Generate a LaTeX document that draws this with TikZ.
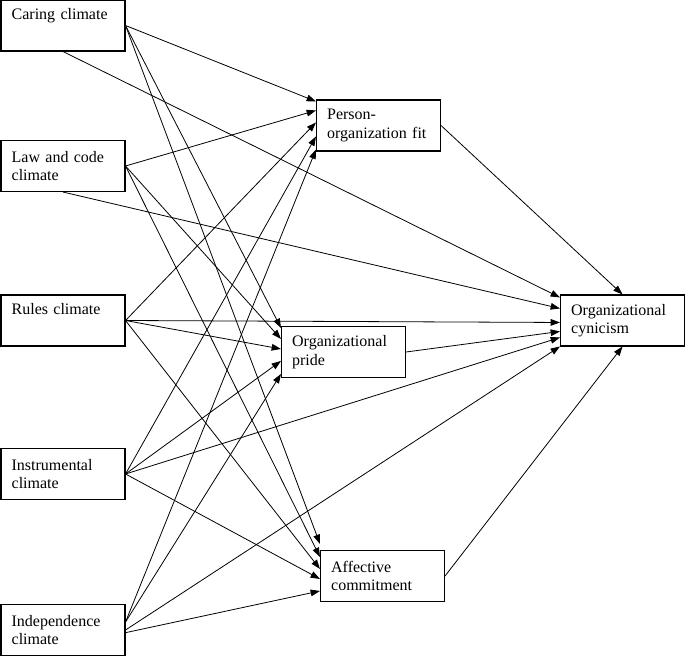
\documentclass[tikz,border=0pt]{standalone}
\usepackage{fontspec}
\setmainfont{Liberation Serif}
\usetikzlibrary{arrows.meta}
\usetikzlibrary{positioning}
\tikzstyle{block} = [rectangle, draw, line width=0.8pt, text width=77pt,
    inner xsep=8pt, inner ysep=3pt, minimum height=38.25pt, align=left,
    font=\fontsize{12}{13.8}\selectfont]
\tikzstyle{line} = [draw, line width=0.6pt, -{Triangle[length=7pt, width=5pt]}]

\begin{document}
\begin{tikzpicture}[x=0.75pt, y=-0.75pt, node distance=2cm]
  \useasboundingbox (0,0) rectangle (685,656);

  % Place nodes
  \node [block] (caring) at (63,25.5) {Caring climate\\ \strut};
  \node [block, below of=caring, node distance=105.375pt] (law) {Law and code\\ climate};
  \node [block, below of=law, node distance=115.875pt] (rules) {Rules climate\\ \strut};
  \node [block, below of=rules, node distance=115.125pt] (instr) {Instrumental\\ climate};
  \node [block, below of=instr, node distance=117pt] (indep) {Independence\\ climate};

  \node [block] (pofit) at (378.5,125.5) {Person-\\ organization fit};
  \node [block] (pride) at (343.5,352) {Organizational\\ pride};
  \node [block] (affect) at (382.5,576) {Affective\\ commitment};
  \node [block] (cynic) at (622.5,320.5) {Organizational\\ cynicism};

  % Caring climate
  \path [line] (caring.east) -- ([yshift=-1.5pt]pofit.north west);
  \path [line] (caring.east) -- ([yshift=-1.5pt]pride.north west);
  \path [line] (caring.east) -- ([yshift=4.5pt]affect.north west);
  \path [line] (caring.south) -- ([yshift=-2.25pt]cynic.north west);

  % Law and code climate
  \path [line] (law.east) -- ([yshift=-8.25pt]pofit.north west);
  \path [line] (law.east) -- ([yshift=-9.75pt]pride.north west);
  \path [line] (law.east) -- ([yshift=-5.25pt]affect.north west);
  \path [line] (law.south) -- ([yshift=-10.5pt]cynic.north west);

  % Rules climate
  \path [line] (rules.east) -- ([yshift=-17.25pt]pofit.north west);
  \path [line] (rules.east) -- ([yshift=-17.25pt]pride.north west);
  \path [line] (rules.east) -- ([yshift=-14.25pt]affect.north west);
  \path [line] (rules.east) -- ([yshift=-21pt]cynic.north west);

  % Instrumental climate
  \path [line] (instr.east) -- ([yshift=-27.75pt]pofit.north west);
  \path [line] (instr.east) -- ([yshift=-26.25pt]pride.north west);
  \path [line] (instr.east) -- ([yshift=-21.75pt]affect.north west);
  \path [line] (instr.east) -- ([yshift=-32.25pt]cynic.north west);

  % Independence climate
  \path [line] ([yshift=6pt]indep.east) -- ([yshift=-37.5pt]pofit.north west);
  \path [line] ([yshift=6pt]indep.east) -- ([yshift=-36pt]pride.north west);
  \path [line] ([yshift=-2pt]indep.east) -- ([yshift=-30.75pt]affect.north west);
  \path [line] (indep.east) -- ([yshift=-39pt]cynic.north west);

  % Mediators to cynicism
  \path [line] (pofit.east) -- (cynic.north);
  \path [line] (pride.east) -- ([yshift=-27.75pt]cynic.north west);
  \path [line] (affect.east) -- (cynic.south);

\end{tikzpicture}
\end{document}
